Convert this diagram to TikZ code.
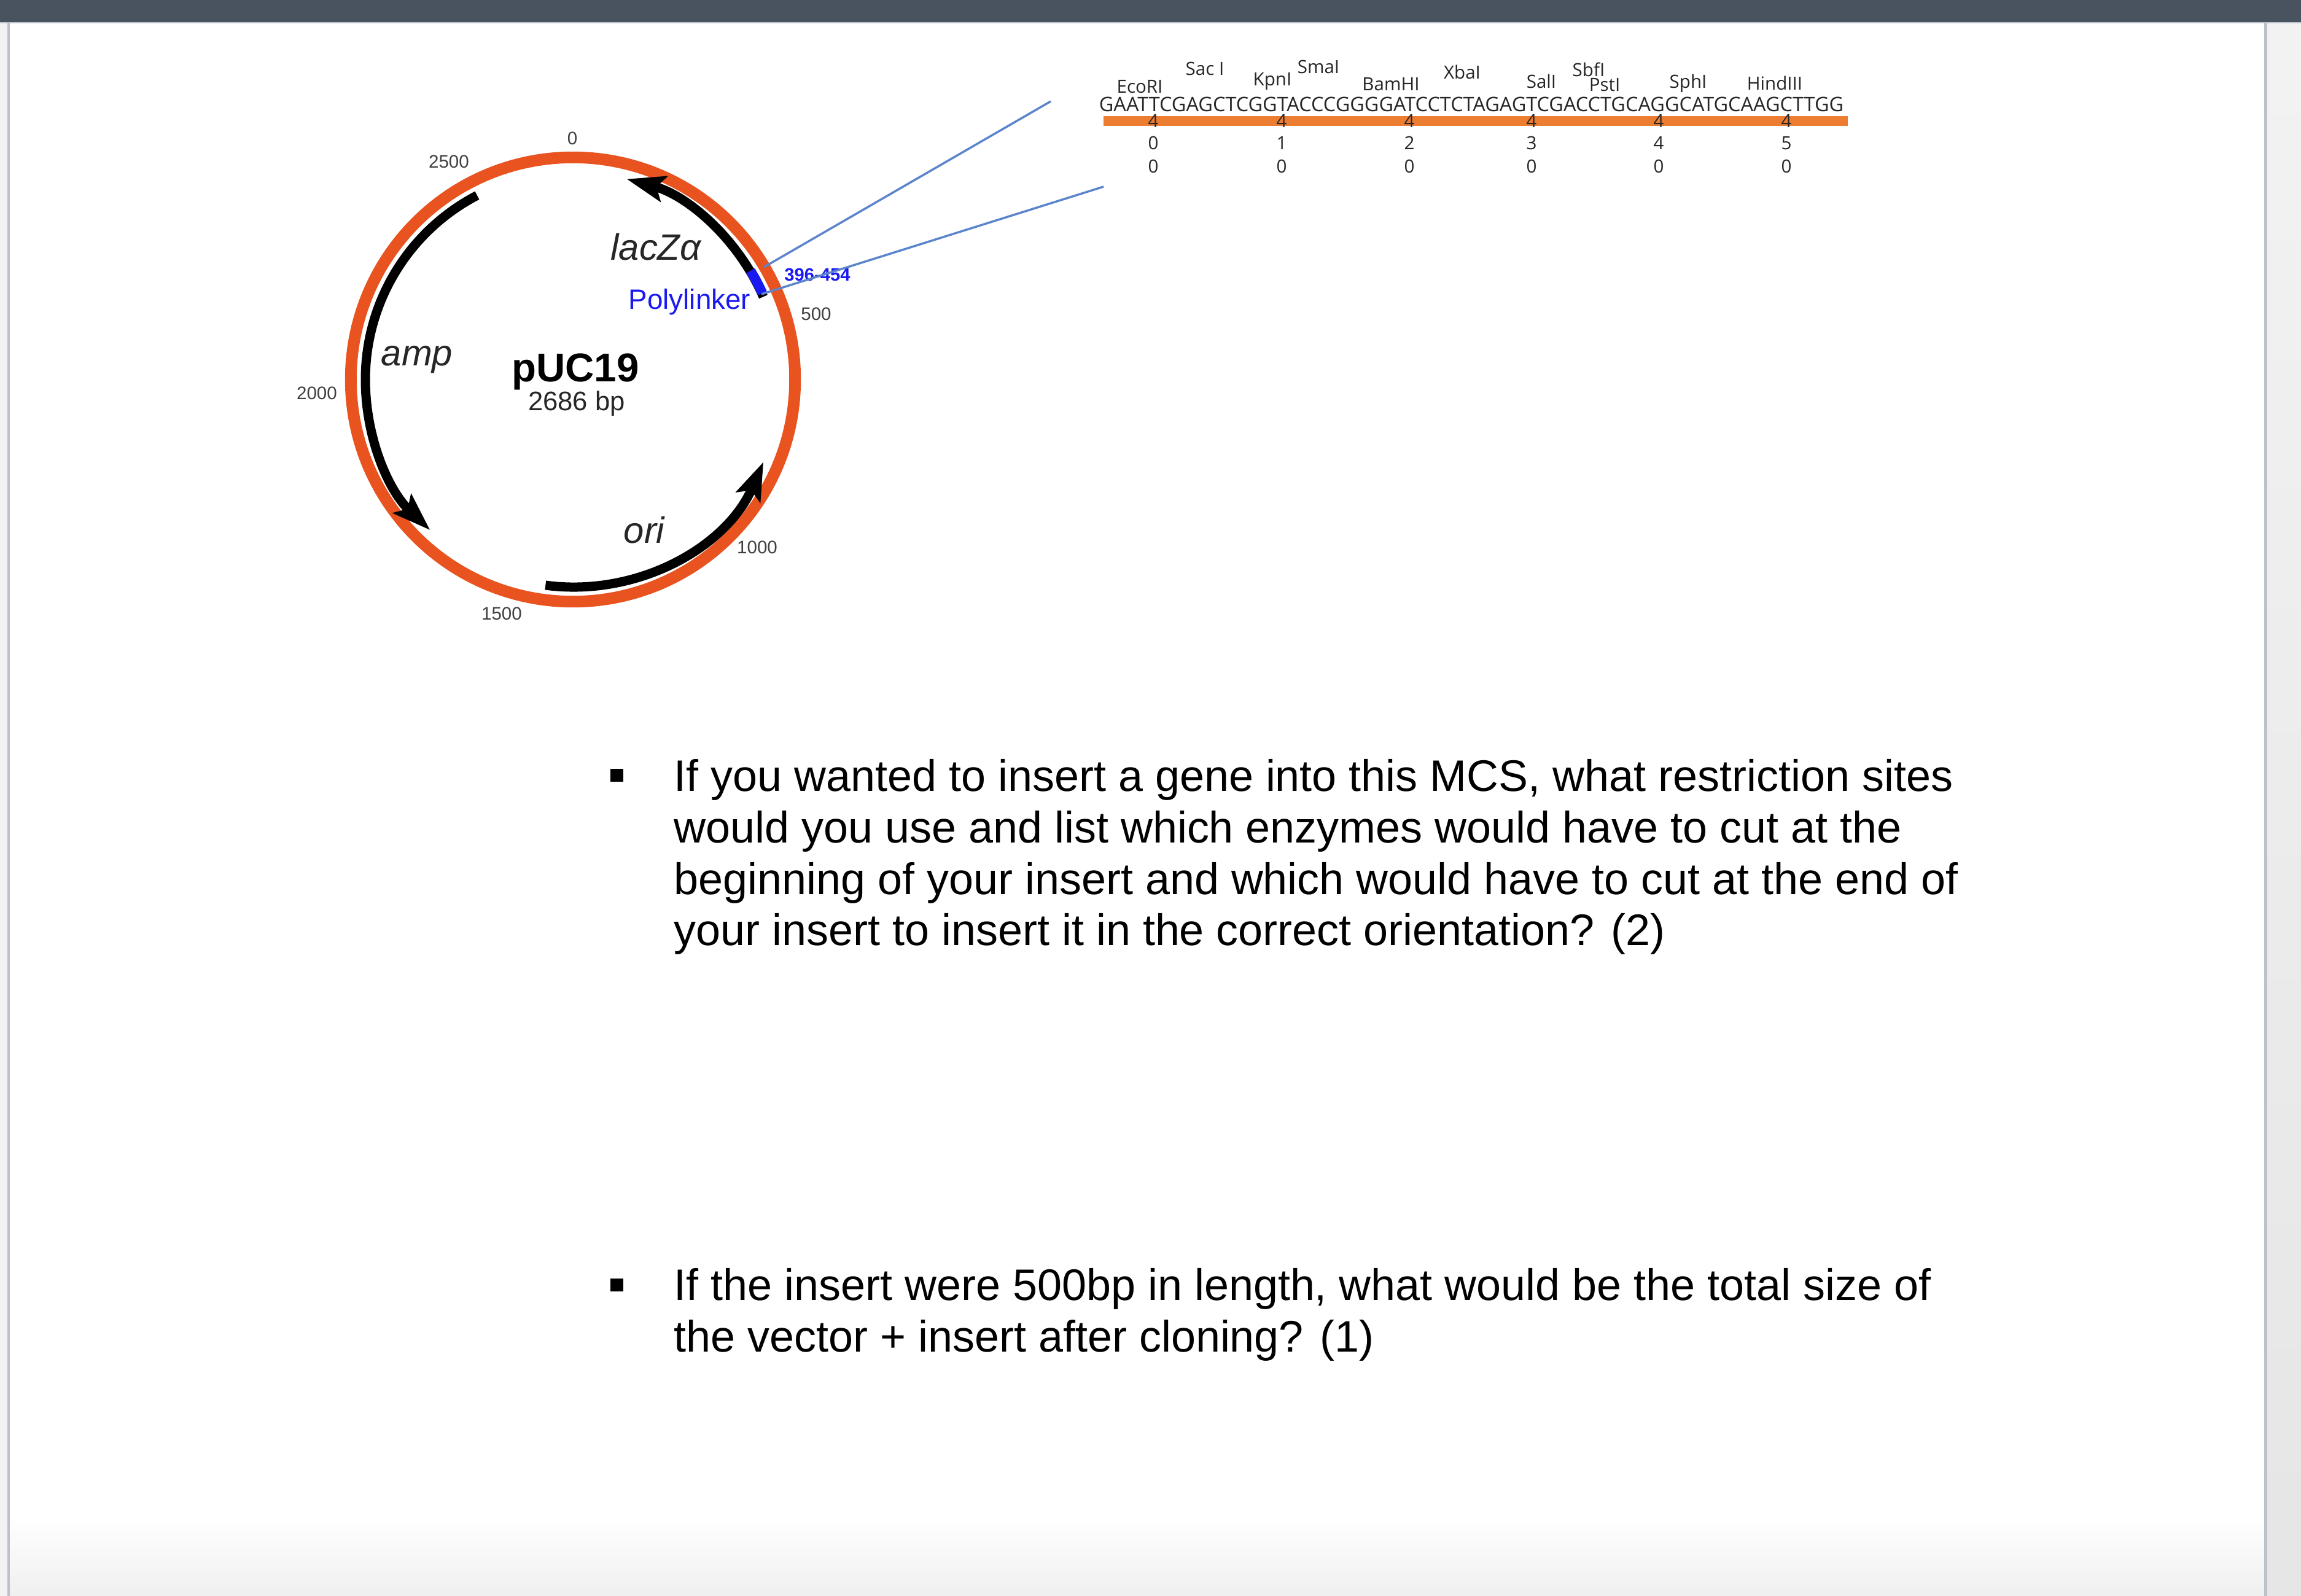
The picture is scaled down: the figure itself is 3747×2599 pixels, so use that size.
\documentclass[tikz,border=0pt]{standalone}
\usepackage{fontspec}
\setmainfont{Liberation Sans}
\newfontfamily\seqfont{Open Sans}
\usetikzlibrary{arrows.meta}
\definecolor{barcol}{HTML}{49525F}
\definecolor{ringcol}{HTML}{E8531F}
\definecolor{mcscol}{HTML}{ED7D31}
\definecolor{linecol}{HTML}{5B84CC}
\definecolor{linkcol}{HTML}{1A1AF0}
\definecolor{edgecol}{HTML}{BCC2CA}
\tikzstyle{ring}=[circle,draw=ringcol,line width=0.19cm,minimum size=7.23cm,inner sep=0pt]
\tikzstyle{gene}=[draw=black,line width=0.15cm,-{Stealth[length=0.62cm,width=0.42cm,inset=0.12cm]}]
\tikzstyle{tick}=[font=\fontsize{8.4}{10}\selectfont,text=black!75,inner sep=0pt]
\tikzstyle{genename}=[font=\fontsize{17}{20}\selectfont\itshape,text=black!85,inner sep=0pt]
\tikzstyle{enzyme}=[font=\seqfont\fontsize{8.4}{10}\selectfont,text=black!85,inner sep=0pt]
\tikzstyle{digit}=[font=\seqfont\fontsize{8.4}{10}\selectfont,text=black!85,inner sep=0pt]
\tikzstyle{zoomline}=[draw=linecol,line width=0.035cm]
\tikzstyle{question}=[font=\fontsize{20.45}{23.8}\selectfont,align=left,anchor=north west,inner sep=0pt]
\tikzstyle{bulletbox}=[fill=black,minimum size=0.21cm,inner sep=0pt]

\begin{document}
\begin{tikzpicture}[x=0.01cm,y=0.01cm]

\useasboundingbox (0,0) rectangle (3747,-2599);

%Window
\fill[white] (0,0) rectangle (3747,-2599);
\shade[top color=white,bottom color=black!6] (14,-2470) rectangle (3689,-2599);
\fill[black!5] (0,-38) rectangle (12,-2599);
\shade[top color=black!5,bottom color=black!10] (3692,-38) rectangle (3747,-2599);
\fill[edgecol] (12,-38) rectangle (16,-2599);
\fill[edgecol] (3687,-38) rectangle (3692,-2599);
\fill[barcol] (0,0) rectangle (3747,-36);
\fill[edgecol] (0,-36) rectangle (3747,-38);

%Plasmid
   \def\cx{933}
   \def\cy{-618}
   \node[ring] (plasmid) at (\cx,\cy) {};

   \draw[gene] (\cx,\cy) ++(117.5:338) arc[start angle=117.5,end angle=226.5,radius=338];
   \draw[gene] (\cx,\cy) ++(262.4:338) arc[start angle=262.4,end angle=336.6,radius=338];
   \draw[gene] (\cx,\cy) ++(23.5:338) arc[start angle=23.5,end angle=75,radius=338];
   \draw[draw=linkcol,line width=0.16cm] (\cx,\cy) ++(24.5:339) arc[start angle=24.5,end angle=31.5,radius=339];

   \foreach \pos/\name/\txt in {{(932,-225)/t0/0},{(731,-263)/t2500/2500},{(516,-640)/t2000/2000},{(817,-999)/t1500/1500},{(1233,-891)/t1000/1000},{(1329,-511)/t500/500}}
       \node[tick] (\name) at \pos {\txt};

   \node[genename] (lacz) at (1068,-402) {lacZα};
   \node[genename] (amp) at (679,-586) {amp};
   \node[genename] (ori) at (1049,-863) {ori};
   \node[inner sep=0pt,font=\fontsize{18.6}{22}\selectfont\bfseries] (name) at (937,-605) {pUC19};
   \node[inner sep=0pt,font=\fontsize{12.4}{15}\selectfont,text=black!85] (size) at (939,-657) {2686 bp};
   \node[inner sep=0pt,font=\fontsize{13}{16}\selectfont,text=linkcol] (linker) at (1123,-492) {Polylinker};
   \node[inner sep=0pt,font=\fontsize{8.3}{10}\selectfont\bfseries,text=linkcol] (range) at (1331,-447) {396-454};

%Zoom lines
   \coordinate (upa) at (1244,-435);
   \coordinate (upb) at (1711,-165);
   \coordinate (lowa) at (1240,-479);
   \coordinate (lowb) at (1797,-304);
   \path[zoomline] (upa) -- (upb);
   \path[zoomline] (lowa) -- (lowb);

%Sequence
   \node[inner sep=0pt,minimum width=12.10cm,minimum height=0.14cm] (seqbar) at (2403,-197) {};
   \fill[mcscol] (seqbar.north west) rectangle (seqbar.south east);
   \node[inner sep=0pt,font=\seqfont\fontsize{9.22}{11}\selectfont,text=black!85] (seq) at (2396,-170) {GAATTCGAGCTCGGTACCCGGGGATCCTCTAGAGTCGACCTGCAGGCATGCAAGCTTGG};

   \foreach \pos/\name/\txt in {{(1856,-141)/ecori/EcoRI},{(1962,-112)/saci/Sac I},{(2072,-132)/kpni/KpnI},{(2147,-109)/smai/SmaI},{(2265,-137)/bamhi/BamHI},{(2381,-117)/xbai/XbaI},{(2510,-132)/sali/SalI},{(2587,-113)/sbfi/SbfI},{(2613,-138)/psti/PstI},{(2749,-136)/sphi/SphI},{(2890,-135)/hind/HindIII}}
       \node[enzyme] (\name) at \pos {\txt};

   \foreach \x/\hund [count=\i] in {1878/0,2087/1,2295/2,2494/3,2701/4,2909/5}
   {
       \node[digit] (four\i) at (\x,-197) {4};
       \node[digit] (hund\i) at (\x,-233) {\hund};
       \node[digit] (zero\i) at (\x,-271) {0};
   }

%Questions
   \node[bulletbox] (bulleta) at (1004,-1262) {};
   \node[question] (qa) at (1097,-1236) {If you wanted to insert a gene into this MCS, what restriction sites\\would you use and list which enzymes would have to cut at the\\beginning of your insert and which would have to cut at the end of\\your insert to insert it in the correct orientation? (2)};
   \node[bulletbox] (bulletb) at (1004,-2092) {};
   \node[question] (qb) at (1097,-2065) {If the insert were 500bp in length, what would be the total size of\\the vector + insert after cloning? (1)};

\end{tikzpicture}
\end{document}
